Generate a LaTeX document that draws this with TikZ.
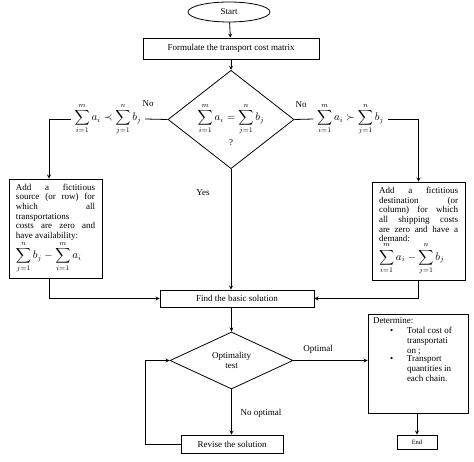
\documentclass[tikz,border=0pt]{standalone}
\usepackage{amsmath}
\usepackage{amssymb}
\usepackage{fontspec}
\setmainfont{Liberation Serif}
\usetikzlibrary{shapes.geometric}
\hbadness=10000

\newcommand{\bigsum}[1]{{\fontsize{10.5}{12}\selectfont$\displaystyle #1$}}

\begin{document}
\begin{tikzpicture}[>=stealth, x=1pt, y=-1pt, line width=0.8pt,
    every node/.style={font=\fontsize{9}{9.6}\selectfont},
    process/.style={draw, rectangle, inner sep=0pt},
    decision/.style={draw, diamond, inner sep=0pt},
    textbox/.style={draw, rectangle, align=justify, text width=79pt, inner xsep=7pt, inner ysep=2pt}]
		\useasboundingbox (0,0) rectangle (474,462);

		\node[draw, ellipse, inner sep=0pt, minimum width=82pt, minimum height=20pt] (start) at (229,12) {Start};
		\node[process, minimum width=176pt, minimum height=21pt] (form) at (231,48.5) {Formulate the transport cost matrix};
		\node[decision, minimum width=126pt, minimum height=82pt] (bal) at (231,119.5) {\bigsum{\sum_{i=1}^{m}a_i=\sum_{j=1}^{n}b_j}};
		\node (q) at (231,143) {?};

		\node (lessq) at (108,119) {\bigsum{\sum_{i=1}^{m}a_i\prec\sum_{j=1}^{n}b_j}};
		\node (moreq) at (350.5,119) {\bigsum{\sum_{i=1}^{m}a_i\succ\sum_{j=1}^{n}b_j}};
		\node (nol) at (148,104) {No};
		\node (nor) at (301,105) {No};
		\node (yes) at (203,193) {Yes};

		\node[textbox, minimum height=99pt] (src) at (55.5,228.5) {Add a fictitious\linebreak source (or row) for\linebreak which all\linebreak transportations\newline costs are zero and\linebreak have availability:\newline \bigsum{\sum_{j=1}^{n}b_j-\sum_{i=1}^{m}a_i}};
		\node[textbox, minimum height=98pt] (dst) at (418.5,231) {Add a fictitious\linebreak destination (or\linebreak column) for which\linebreak all shipping costs\linebreak are zero and have a\linebreak demand:\newline \bigsum{\sum_{i=1}^{m}a_i-\sum_{j=1}^{n}b_j}};

		\node[process, minimum width=154pt, minimum height=17pt] (basic) at (237,298.5) {Find the basic solution};
		\node[decision, minimum width=123pt, minimum height=57pt, align=center] (opt) at (231.5,360.5) {Optimality\\test};
		\node (optl) at (318,349) {Optimal};
		\node (noopt) at (261,413) {No optimal};
		\node[process, minimum width=102pt, minimum height=18pt] (rev) at (232,444) {Revise the solution};

		\node[draw, inner xsep=5pt, inner ysep=3.5pt, font=\fontsize{9}{10}\selectfont] (det) at (418,363.5) {\begin{minipage}[t][92pt][t]{90pt}
		Determine:\par
		\hspace*{17pt}\makebox[17pt][l]{\textbullet}\parbox[t]{50pt}{Total cost of\\transportati\\on ;}\par
		\hspace*{17pt}\makebox[17pt][l]{\textbullet}\parbox[t]{50pt}{Transport\\quantities in\\each chain.}
		\end{minipage}};
		\node[process, minimum width=40pt, minimum height=14pt, font=\fontsize{6.5}{7}\selectfont] (stop) at (417,442) {End};

		\draw[->] (start) -- (form);
		\draw[->] (form) -- (bal);
		\draw (bal.west) -- (lessq.east);
		\draw[->] (lessq.west) -| ([xshift=-6.5pt]src.north);
		\draw (bal.east) -- (moreq.west);
		\draw[->] (moreq.east) -| (dst.north);
		\draw[->] (bal.south) -- (bal.south |- basic.north);
		\draw[->] ([xshift=-6.5pt]src.south) |- (basic.west);
		\draw[->] (dst.south) |- (basic.east);

		\draw[->] (basic.south -| opt.north) -- (opt.north);
		\draw[->] (opt.east) -- (opt.east -| det.west);
		\draw[->] (det.south -| stop.north) -- (stop.north);
		\draw[->] (opt.south) -- (opt.south |- rev.north);
		\draw[->] (rev.west) -| ([xshift=-24pt]opt.west) -- (opt.west);

		\end{tikzpicture}
\end{document}
